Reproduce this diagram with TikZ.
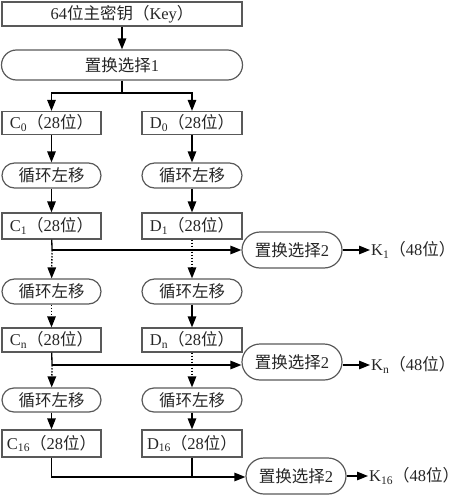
\documentclass[tikz,border=0pt]{standalone}
\usepackage{fontspec}
\setmainfont{Liberation Serif}
\newfontfamily\cjk{Noto Sans CJK SC}
\usetikzlibrary{arrows.meta}
\newcommand{\zh}[1]{{\cjk #1}}
\begin{document}
\begin{tikzpicture}[x=1pt,y=-1pt,
  font=\fontsize{16.5}{19}\selectfont, text=black!85,
  box/.style={draw=black!65, line width=1.2pt, rectangle, inner sep=0pt, minimum width=99pt, minimum height=23pt},
  stad/.style={draw=black!65, line width=1.2pt, rectangle, inner sep=0pt, minimum width=99pt, minimum height=25pt, rounded corners=12.5pt},
  lab/.style={anchor=west, inner sep=1pt},
  con/.style={draw=black, line width=1.3pt},
  arr/.style={con, -{Triangle[length=11pt,width=8.5pt]}},
  dots/.style={con, dash pattern=on 1.5pt off 1.5pt},
  dotarr/.style={dots, -{Triangle[length=11pt,width=8.5pt]}}]
\useasboundingbox (0,0) rectangle (474,495);
% top
\node[box, minimum width=240pt, minimum height=24pt] (key) at (122,14) {64\zh{位主密钥（}Key\zh{）}};
\node[stad, minimum width=241pt, minimum height=30pt, rounded corners=15pt] (p1) at (122,65) {\zh{置换选择}1};
% row 0
\node[box] (c0) at (51.5,123) {C\textsubscript{0}\zh{（}28\zh{位）}};
\node[box, minimum width=100pt] (d0) at (192,123) {D\textsubscript{0}\zh{（}28\zh{位）}};
\node[stad] (s1c) at (51.5,175.5) {\zh{循环左移}};
\node[stad, minimum width=100pt] (s1d) at (192,175.5) {\zh{循环左移}};
% row 1
\node[box, minimum height=26pt] (c1) at (51.5,226) {C\textsubscript{1}\zh{（}28\zh{位）}};
\node[box, minimum width=100pt, minimum height=26pt] (d1) at (192,226) {D\textsubscript{1}\zh{（}28\zh{位）}};
\node[stad, minimum width=100pt, minimum height=36pt, rounded corners=18pt] (p2a) at (292,250) {\zh{置换选择}2};
\node[lab] (k1) at (370,250) {K\textsubscript{1}\zh{（}48\zh{位）}};
\node[stad] (s2c) at (51.5,291.5) {\zh{循环左移}};
\node[stad, minimum width=100pt] (s2d) at (192,291.5) {\zh{循环左移}};
% row n
\node[box, minimum height=24pt] (cn) at (51.5,340) {C\textsubscript{n}\zh{（}28\zh{位）}};
\node[box, minimum width=100pt, minimum height=24pt] (dn) at (192,340) {D\textsubscript{n}\zh{（}28\zh{位）}};
\node[stad, minimum width=100pt, minimum height=36pt, rounded corners=18pt] (p2b) at (292,362) {\zh{置换选择}2};
\node[lab] (kn) at (370,365) {K\textsubscript{n}\zh{（}48\zh{位）}};
\node[stad, minimum height=24pt, rounded corners=12pt] (s3c) at (51.5,400) {\zh{循环左移}};
\node[stad, minimum width=100pt, minimum height=24pt, rounded corners=12pt] (s3d) at (192,400) {\zh{循环左移}};
% row 16
\node[box, minimum height=27pt] (c16) at (51.5,443.5) {C\textsubscript{16}\zh{（}28\zh{位）}};
\node[box, minimum width=100pt, minimum height=27pt] (d16) at (192,443.5) {D\textsubscript{16}\zh{（}28\zh{位）}};
\node[stad, minimum width=100pt, minimum height=36pt, rounded corners=18pt] (p2c) at (296,476) {\zh{置换选择}2};
\node[lab] (k16) at (368,476) {K\textsubscript{16}\zh{（}48\zh{位）}};
% connectors
\coordinate (j1) at (122,93);
\coordinate (h1) at (52,250);
\coordinate (h2) at (52,365);
\coordinate (h3) at (52,477);
\coordinate (h3d) at (192,477);
\draw[arr] (key) -- (p1);
\draw[con] (p1) -- (j1);
\draw[arr] (j1) -| (c0);
\draw[arr] (j1) -| (d0);
\draw[arr] (c0) -- (s1c);
\draw[arr] (d0) -- (s1d);
\draw[arr] (s1c) -- (c1);
\draw[arr] (s1d) -- (d1);
\draw[con] (c1) -- (h1);
\draw[arr] (h1) -- (p2a);
\draw[arr] (p2a) -- (k1);
\draw[dotarr] (h1) -- (s2c);
\draw[dotarr] (d1) -- (s2d);
\draw[dotarr] (s2c) -- (cn);
\draw[arr] (s2d) -- (dn);
\draw[con] (cn) -- (h2);
\draw[arr] (h2) -- (p2b.west |- h2);
\draw[arr] (p2b.east |- kn) -- (kn);
\draw[dotarr] (h2) -- (s3c);
\draw[dotarr] (dn) -- (s3d);
\draw[arr] (s3c) -- (c16);
\draw[arr] (s3d) -- (d16);
\draw[con] (c16) |- (h3);
\draw[con] (d16) -- (h3d);
\draw[arr] (h3) -- (p2c.west |- h3);
\draw[arr] (p2c) -- (k16);
\end{tikzpicture}
\end{document}
